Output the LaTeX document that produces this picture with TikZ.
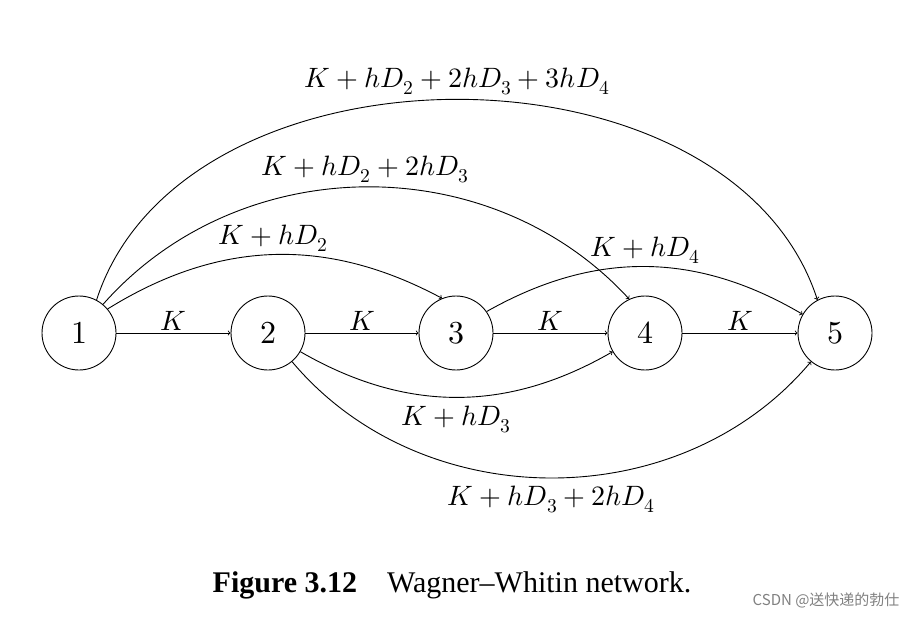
\documentclass[tikz,border=0pt]{standalone}
\usepackage{fontspec}
\setmainfont{Liberation Serif}
\newfontfamily\cjk{Noto Sans CJK SC}
\usepackage{unicode-math}
\setmathfont{Latin Modern Math}
\begin{document}
\begin{tikzpicture}[x=1pt,y=-1pt,
  st/.style={circle,draw,line width=0.9pt,minimum size=74pt,inner sep=0pt,font=\fontsize{32}{36}\selectfont},
  ar/.style={->,>=to,line width=0.9pt},
  lb/.style={font=\fontsize{28}{32}\selectfont,inner sep=2pt}]
\useasboundingbox (0,0) rectangle (917,617);
\node[st] (n1) at (79,333) {$1$};
\node[st] (n2) at (268,333) {$2$};
\node[st] (n3) at (456,333) {$3$};
\node[st] (n4) at (645,333) {$4$};
\node[st] (n5) at (835,333) {$5$};
\draw[ar] (n1) -- node[lb,above]{$K$} (n2);
\draw[ar] (n2) -- node[lb,above]{$K$} (n3);
\draw[ar] (n3) -- node[lb,above]{$K$} (n4);
\draw[ar] (n4) -- node[lb,above]{$K$} (n5);
\draw[ar] (n1.40) to[bend left=30] node[lb,above=1pt]{$K+hD_2$} (n3.112);
\draw[ar] (n1.50) to[bend left=48] node[lb,above=2pt]{$K+hD_2+2hD_3$} (n4.115);
\draw[ar] (n1.62) to[bend left=72] node[lb,above=2pt]{$K+hD_2+2hD_3+3hD_4$} (n5.118);
\draw[ar] (n3.35) to[bend left=30] node[lb,above=1pt]{$K+hD_4$} (n5.150);
\draw[ar] (n2.-30) to[bend right=30] node[lb,below=6pt]{$K+hD_3$} (n4.-150);
\draw[ar] (n2.-50) to[bend right=50] node[lb,below=6pt]{$K+hD_3+2hD_4$} (n5.-130);
\node[font=\fontsize{30}{34}\selectfont,anchor=base] (cap) at (452,592) {\textbf{Figure 3.12}\quad Wagner–Whitin network.};
\node[font=\cjk\fontsize{15}{18}\selectfont,text=gray,anchor=base east] (wm) at (903,605) {CSDN @送快递的勃仕};
\end{tikzpicture}
\end{document}
